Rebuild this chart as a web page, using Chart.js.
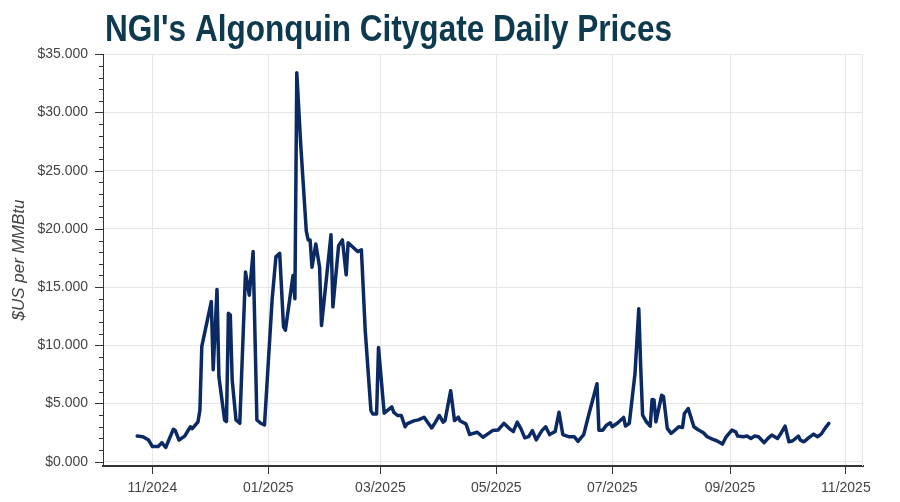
<!DOCTYPE html>
<html>
<head>
<meta charset="utf-8">
<title>NGI's Algonquin Citygate Daily Prices</title>
<script src="https://cdn.jsdelivr.net/npm/chart.js@4.4.1/dist/chart.umd.min.js"></script>
<style>
  html, body { margin: 0; padding: 0; background: #fff; }
  canvas { display: block; }
</style>
</head>
<body>
<canvas id="priceChart" width="900" height="502"></canvas>
<script>
const chartTitle = "NGI's Algonquin Citygate Daily Prices";
const yAxisLabel = '$US per MMBtu';

// daily price points ($/MMBtu)
const dates = [
  '2024-10-24', '2024-10-27', '2024-10-30', '2024-11-01', '2024-11-04', '2024-11-06', '2024-11-08',
  '2024-11-12', '2024-11-13', '2024-11-15', '2024-11-18', '2024-11-21', '2024-11-22', '2024-11-25',
  '2024-11-26', '2024-11-27', '2024-12-02', '2024-12-03', '2024-12-05', '2024-12-06', '2024-12-09',
  '2024-12-10', '2024-12-11', '2024-12-12', '2024-12-13', '2024-12-15', '2024-12-17', '2024-12-20',
  '2024-12-22', '2024-12-24', '2024-12-26', '2024-12-28', '2024-12-30', '2025-01-03', '2025-01-05',
  '2025-01-07', '2025-01-09', '2025-01-10', '2025-01-14', '2025-01-15', '2025-01-16', '2025-01-18',
  '2025-01-21', '2025-01-22', '2025-01-23', '2025-01-24', '2025-01-26', '2025-01-28', '2025-01-29',
  '2025-02-03', '2025-02-04', '2025-02-07', '2025-02-09', '2025-02-11', '2025-02-12', '2025-02-14',
  '2025-02-17', '2025-02-19', '2025-02-21', '2025-02-24', '2025-02-25', '2025-02-27', '2025-02-28',
  '2025-03-03', '2025-03-07', '2025-03-08', '2025-03-10', '2025-03-12', '2025-03-14', '2025-03-15',
  '2025-03-17', '2025-03-19', '2025-03-21', '2025-03-24', '2025-03-28', '2025-03-30', '2025-04-01',
  '2025-04-03', '2025-04-04', '2025-04-07', '2025-04-09', '2025-04-11', '2025-04-12', '2025-04-15',
  '2025-04-17', '2025-04-18', '2025-04-21', '2025-04-24', '2025-04-26', '2025-04-29', '2025-05-02',
  '2025-05-05', '2025-05-08', '2025-05-10', '2025-05-12', '2025-05-14', '2025-05-16', '2025-05-18',
  '2025-05-20', '2025-05-22', '2025-05-25', '2025-05-27', '2025-05-29', '2025-06-01', '2025-06-03',
  '2025-06-05', '2025-06-08', '2025-06-11', '2025-06-13', '2025-06-16', '2025-06-19', '2025-06-23',
  '2025-06-24', '2025-06-26', '2025-06-28', '2025-06-30', '2025-07-01', '2025-07-04', '2025-07-07',
  '2025-07-08', '2025-07-10', '2025-07-13', '2025-07-15', '2025-07-16', '2025-07-17', '2025-07-19',
  '2025-07-21', '2025-07-22', '2025-07-23', '2025-07-24', '2025-07-27', '2025-07-28', '2025-07-30',
  '2025-08-01', '2025-08-03', '2025-08-05', '2025-08-07', '2025-08-08', '2025-08-10', '2025-08-13',
  '2025-08-15', '2025-08-18', '2025-08-20', '2025-08-23', '2025-08-25', '2025-08-28', '2025-08-30',
  '2025-09-02', '2025-09-04', '2025-09-05', '2025-09-08', '2025-09-10', '2025-09-12', '2025-09-14',
  '2025-09-16', '2025-09-19', '2025-09-21', '2025-09-23', '2025-09-26', '2025-09-28', '2025-09-30',
  '2025-10-02', '2025-10-04', '2025-10-07', '2025-10-08', '2025-10-10', '2025-10-12', '2025-10-15',
  '2025-10-17', '2025-10-19', '2025-10-21', '2025-10-23'
];
const prices = [
  2.2, 2.15, 1.86, 1.3, 1.3, 1.63, 1.22,
  2.78, 2.7, 1.86, 2.2, 3.0, 2.84, 3.43,
  4.43, 9.9, 13.75, 7.9, 14.8, 7.3, 3.58,
  3.45, 12.75, 12.6, 7.0, 3.58, 3.3, 16.3,
  14.3, 18.05, 3.58, 3.3, 3.15, 13.9, 17.6,
  17.9, 11.6, 11.3, 16.0, 14.0, 33.4, 27.4,
  19.8, 19.05, 19.05, 16.7, 18.7, 16.7, 11.7,
  19.5, 13.3, 18.55, 19.05, 16.05, 18.8, 18.5,
  18.05, 18.2, 11.3, 4.4, 4.1, 4.1, 9.8,
  4.17, 4.7, 4.25, 3.97, 3.97, 3.0, 3.25,
  3.4, 3.53, 3.59, 3.82, 2.9, 3.4, 3.97,
  3.4, 3.53, 6.1, 3.53, 3.82, 3.5, 3.25,
  2.33, 2.39, 2.53, 2.1, 2.33, 2.67, 2.73,
  3.3, 2.82, 2.6, 3.4, 2.82, 2.04, 2.15,
  2.67, 1.87, 2.67, 3.0, 2.33, 2.6, 4.25,
  2.33, 2.15, 2.15, 1.75, 2.33, 4.25, 6.7,
  2.7, 2.7, 3.14, 3.34, 3.0, 3.34, 3.8,
  3.06, 3.3, 7.57, 13.14, 8.14, 4.0, 3.43,
  3.06, 5.34, 5.3, 3.43, 5.7, 5.6, 2.86,
  2.43, 2.7, 3.0, 2.94, 4.14, 4.57, 3.0,
  2.77, 2.49, 2.14, 1.91, 1.8, 1.51, 2.14,
  2.71, 2.57, 2.2, 2.14, 2.2, 2.0, 2.2,
  2.14, 1.63, 2.0, 2.29, 2.0, 2.49, 3.06,
  1.71, 1.8, 2.2, 1.86, 1.71, 2.0, 2.37,
  2.14, 2.37, 2.86, 3.29
];

const xTickDates = ['2024-11-01', '2025-01-01', '2025-03-01', '2025-05-01', '2025-07-01', '2025-09-01', '2025-11-01'];
const yTickValues = [0, 5, 10, 15, 20, 25, 30, 35];
const xRange = ['2024-10-06', '2025-11-10'];
const yRange = [-0.37, 35.02];

const toTime = d => Date.parse(d + 'T00:00:00Z');
const fontFamily = '"Liberation Sans", Arial, Helvetica, sans-serif';

// minor/major ticks on the y axis and the light right edge of the frame
const axisTicks = {
  id: 'axisTicks',
  afterDraw(chart) {
    const { ctx, chartArea, scales } = chart;
    const y = scales.y;
    ctx.save();
    ctx.strokeStyle = '#333';
    ctx.lineWidth = 1;
    const top = yTickValues[yTickValues.length - 1];
    for (let v = 0; v <= top; v++) {
      const py = Math.round(y.getPixelForValue(v)) + 0.5;
      const len = v % 5 === 0 ? 8 : 4;
      ctx.beginPath();
      ctx.moveTo(chartArea.left - len, py);
      ctx.lineTo(chartArea.left, py);
      ctx.stroke();
    }
    ctx.strokeStyle = '#e6e6e6';
    ctx.beginPath();
    ctx.moveTo(chartArea.right - 0.5, chartArea.top);
    ctx.lineTo(chartArea.right - 0.5, chartArea.bottom);
    ctx.stroke();
    ctx.restore();
  }
};

// condensed bold headline
const headline = {
  id: 'headline',
  afterDraw(chart) {
    const ctx = chart.ctx;
    ctx.save();
    ctx.font = 'bold 37px ' + fontFamily;
    ctx.fillStyle = '#0d3a4e';
    ctx.textBaseline = 'alphabetic';
    ctx.textAlign = 'left';
    const w = ctx.measureText(chartTitle).width;
    ctx.translate(105, 41);
    ctx.scale(567 / w, 1);
    ctx.fillText(chartTitle, 0, 0);
    ctx.restore();
  }
};

new Chart(document.getElementById('priceChart'), {
  type: 'line',
  data: {
    datasets: [{
      label: 'Algonquin Citygate',
      data: dates.map((d, i) => ({ x: toTime(d), y: prices[i] })),
      borderColor: '#0b2a63',
      borderWidth: 3.5,
      borderJoinStyle: 'round',
      borderCapStyle: 'round',
      pointRadius: 0,
      tension: 0,
      fill: false
    }]
  },
  options: {
    responsive: false,
    animation: false,
    devicePixelRatio: 1,
    layout: { padding: { top: 54, right: 37, bottom: 0, left: 0 } },
    plugins: {
      legend: { display: false },
      tooltip: { enabled: false }
    },
    scales: {
      x: {
        type: 'linear',
        min: toTime(xRange[0]),
        max: toTime(xRange[1]),
        afterBuildTicks: s => { s.ticks = xTickDates.map(d => ({ value: toTime(d) })); },
        afterFit: s => { s.height = 36; },
        grid: { color: '#e6e6e6', lineWidth: 1, drawTicks: true, tickLength: 8, tickColor: '#333', tickWidth: 1 },
        border: { display: true, color: '#333', width: 2 },
        ticks: {
          color: '#444',
          font: { size: 14, family: fontFamily },
          padding: 6,
          maxRotation: 0,
          autoSkip: false,
          callback: v => {
            const d = new Date(v);
            return String(d.getUTCMonth() + 1).padStart(2, '0') + '/' + d.getUTCFullYear();
          }
        }
      },
      y: {
        min: yRange[0],
        max: yRange[1],
        afterBuildTicks: s => { s.ticks = yTickValues.map(v => ({ value: v })); },
        afterFit: s => { s.width = 103; },
        grid: { color: '#e6e6e6', lineWidth: 1, drawTicks: false },
        border: { display: true, color: '#333', width: 1 },
        ticks: {
          color: '#444',
          font: { size: 14, family: fontFamily },
          padding: 15,
          callback: v => '$' + v.toFixed(3)
        },
        title: {
          display: true,
          text: yAxisLabel,
          color: '#444',
          font: { size: 17, style: 'italic', family: fontFamily },
          padding: { top: 9, bottom: 0 }
        }
      }
    }
  },
  plugins: [axisTicks, headline]
});
</script>
</body>
</html>
